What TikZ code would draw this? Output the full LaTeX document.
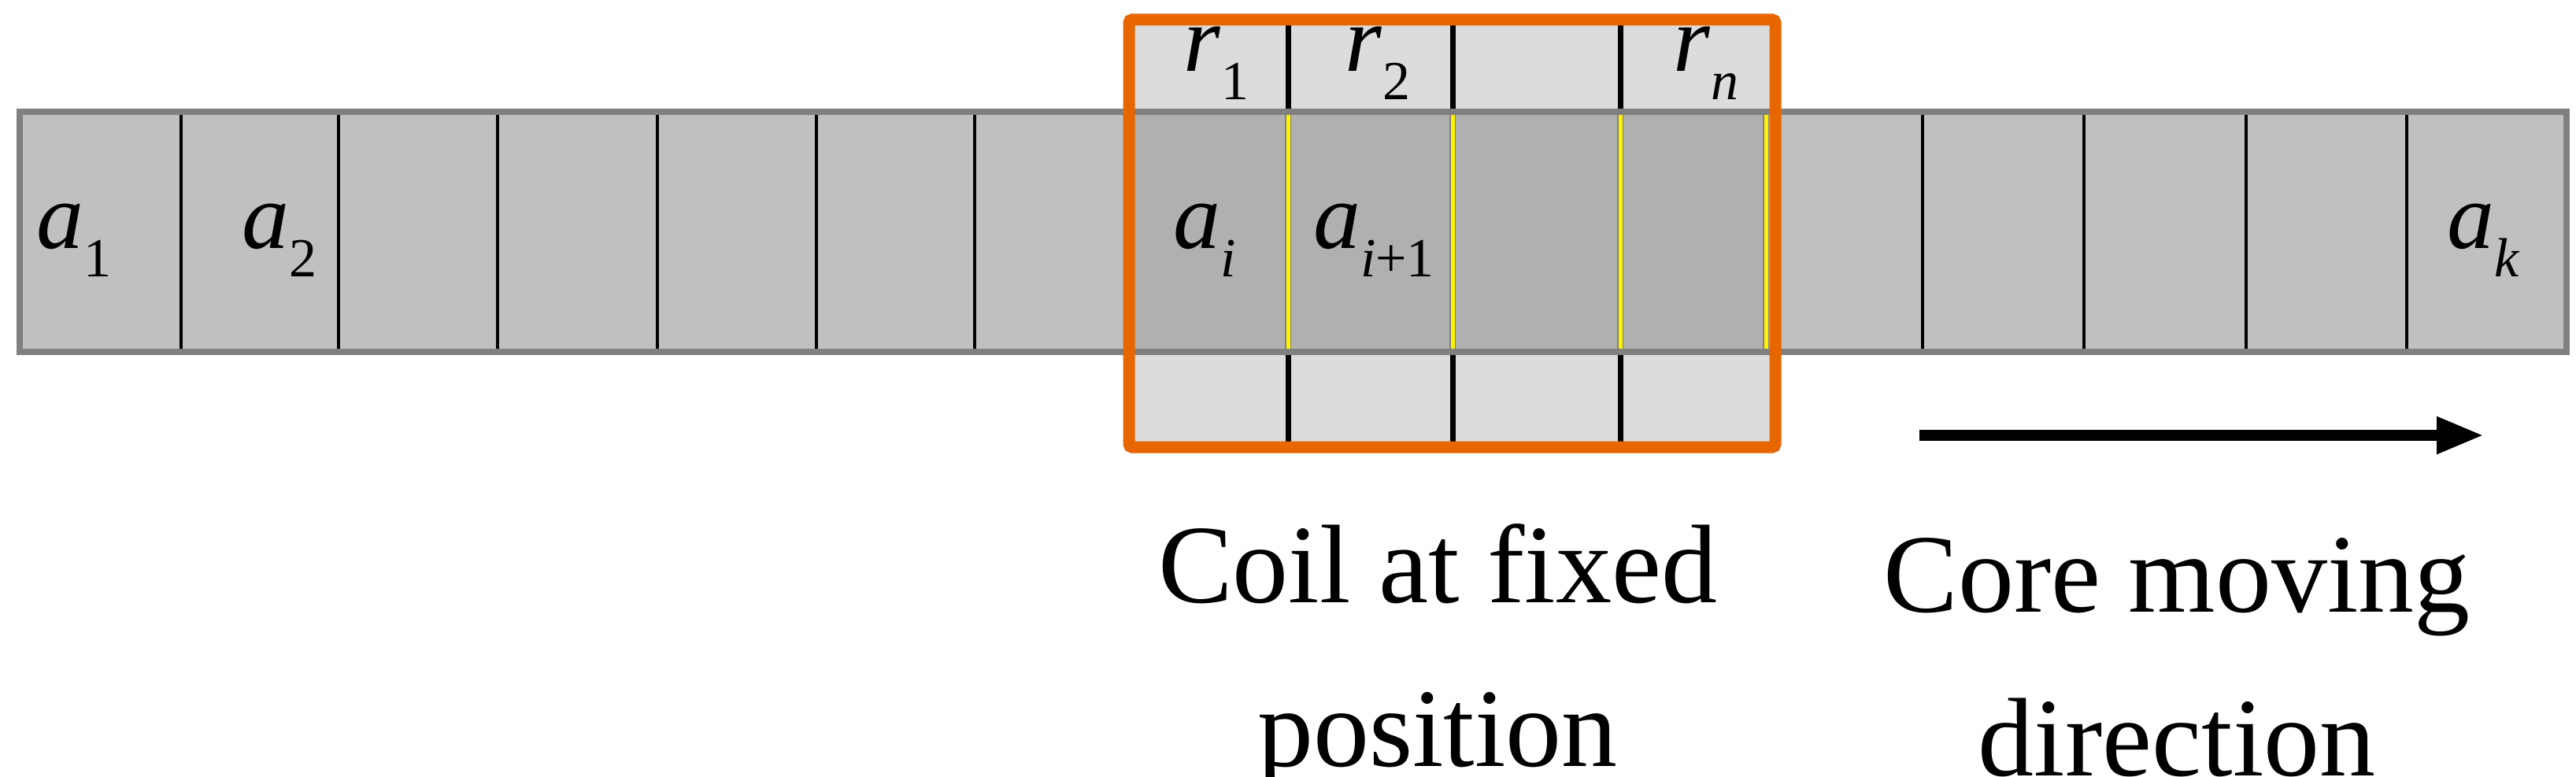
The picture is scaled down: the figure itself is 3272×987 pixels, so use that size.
\documentclass[tikz,border=0pt]{standalone}
\usepackage{fontspec}
\setmainfont{Liberation Serif}
\usetikzlibrary{arrows.meta}
\newcommand{\sbs}[1]{\raisebox{-0.3em}{\fontsize{70}{70}\selectfont #1}}
\begin{document}
\begin{tikzpicture}[x=1pt,y=-1pt,
  lab/.style={font=\fontsize{120}{130}\selectfont},
  captext/.style={font=\fontsize{142}{208}\selectfont,align=center}]
\useasboundingbox (0,0) rectangle (3272,987);
\fill[white] (0,0) rectangle (3272,987);
% coil interior
\fill[fill={rgb,255:red,220;green,220;blue,220}] (1434,25) rectangle (2255,568);
% strip
\fill[fill={rgb,255:red,192;green,192;blue,192}] (25,142) rectangle (3260,447);
\fill[fill={rgb,255:red,176;green,176;blue,176}] (1437,142) rectangle (2243,447);
\foreach \x in {230,430,632,835,1037,1238,2442,2647,2853,3057}
  \draw[line width=4pt] (\x,146) -- (\x,443);
\foreach \x in {1636,1845,2058}{
  \draw[line width=7pt] (\x,25) -- (\x,142);
  \draw[line width=7pt] (\x,447) -- (\x,568);}
\foreach \x in {1437,1636,1845,2058,2243}{
  \draw[gray,line width=8pt] (\x,146) -- (\x,443);
  \draw[yellow,line width=5pt] (\x,146) -- (\x,443);}
\draw[draw={rgb,255:red,128;green,128;blue,128},line width=8pt] (25,142) rectangle (3260,447);
\draw[draw={rgb,255:red,232;green,102;blue,0},line width=15pt,rounded corners=4pt] (1434,25) rectangle (2255,568);
% labels
\node[lab] (a1) at (94,305) {\textit{a}\sbs{1}};
\node[lab] (a2) at (355,305) {\textit{a}\sbs{2}};
\node[lab] (ai) at (1530,305) {\textit{a}\sbs{\textit{i}}};
\node[lab] (ai1) at (1745,305) {\textit{a}\sbs{\textit{i}+1}};
\node[lab] (ak) at (3155,305) {\textit{a}\sbs{\textit{k}}};
\node[lab] (r1) at (1545,80) {\textit{r}\sbs{1}};
\node[lab] (r2) at (1750,80) {\textit{r}\sbs{2}};
\node[lab] (rn) at (2167,80) {\textit{r}\sbs{\textit{n}}};
\coordinate (as) at (2438,553);
\coordinate (ae) at (3155,553);
\draw[line width=14pt,-{Triangle[length=60pt,width=44pt]}] (as) -- (ae);
\node[captext] (coil) at (1826,835) {Coil at fixed\\position};
\node[captext] (core) at (2765,835) {Core moving\\direction};
\end{tikzpicture}
\end{document}
